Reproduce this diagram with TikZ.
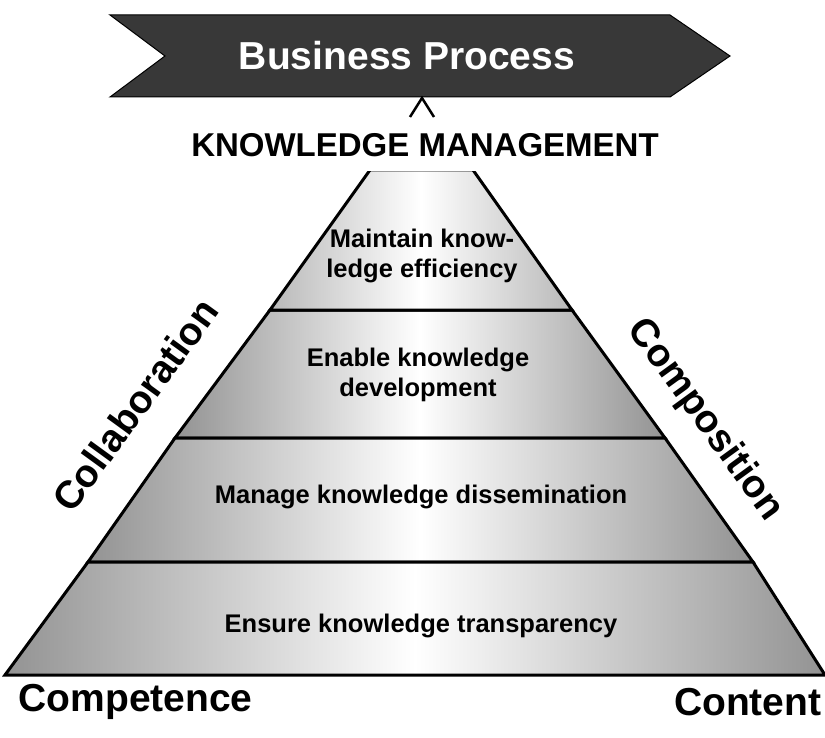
\documentclass[tikz,border=0pt]{standalone}
\usepackage{fontspec}
\setmainfont{Liberation Sans}
\begin{document}
\begin{tikzpicture}[x=1pt,y=-1pt,
  band/.style={draw=black,line width=3pt,left color=gray!85,right color=gray!85,middle color=white},
  bandtxt/.style={font=\bfseries\fontsize{25.5}{30}\selectfont,align=center},
  big/.style={font=\bfseries\fontsize{39}{44}\selectfont}]
\useasboundingbox (0,0) rectangle (825,738);
\fill[white] (0,0) rectangle (825,738);
% banner
\filldraw[fill=black!78,draw=black,line width=1pt] (110,15) -- (670,15) -- (730,56) -- (670,97) -- (110,97) -- (165,56) -- cycle;
\node[big,text=white] (bp) at (407,56) {Business Process};
\coordinate (caretL) at (410,117);
\coordinate (caretT) at (422,98);
\coordinate (caretR) at (434,117);
\draw[line width=2.5pt] (caretL) -- (caretT) -- (caretR);
% bands
\shade[band] (270,310) -- (572,310) -- (665,438) -- (175,438) -- cycle;
\shade[band] (175,438) -- (665,438) -- (753,562) -- (88,562) -- cycle;
\shade[band] (88,562) -- (753,562) -- (825,675) -- (5,675) -- cycle;
\shade[draw=black,line width=3pt,left color=gray!55,right color=gray!55,middle color=white] (370,170) -- (473,170) -- (572,310) -- (270,310) -- cycle;
\fill[white] (355,158) rectangle (490,171);
\node[font=\bfseries\fontsize{33}{36}\selectfont] (km) at (425,145) {KNOWLEDGE MANAGEMENT};
\node[bandtxt] (t1) at (422,256) {Maintain know-\\ledge efficiency};
\node[bandtxt] (t2) at (418,375) {Enable knowledge\\development};
\node[bandtxt] (t3) at (421,497) {Manage knowledge dissemination};
\node[bandtxt] (t4) at (421,626) {Ensure knowledge transparency};
\node[big,rotate=54] (col) at (135,405) {Collaboration};
\node[big,rotate=-54] (cmp) at (705,420) {Composition};
\node[big,anchor=west] (cpt) at (15,702) {Competence};
\node[big,anchor=east] (cnt) at (825,702) {Content};
\end{tikzpicture}
\end{document}
